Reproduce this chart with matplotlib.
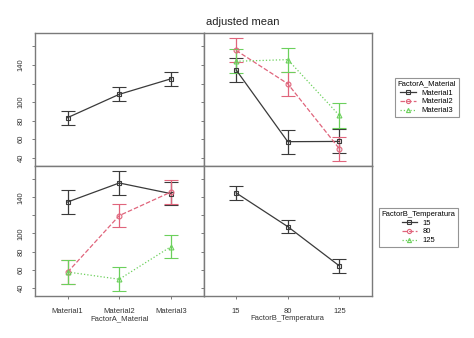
import matplotlib.pyplot as plt
from matplotlib.lines import Line2D

plt.rcParams['font.family'] = ['Liberation Sans', 'DejaVu Sans']

materials = ["Material1", "Material2", "Material3"]
temps = ["15", "80", "125"]

# cell means, rows = material, cols = temperature
cell_means = [[134.75, 57.25, 57.5],
              [155.75, 119.75, 49.5],
              [144.0, 145.75, 85.5]]
cell_err = 13.0

material_means = [83.17, 108.33, 125.08]
temp_means = [144.83, 107.58, 64.17]
marg_err = 7.5

colors = ["#3a3a3a", "#e0657c", "#6cd05c"]
styles = ["-", "--", ":"]
markers = ["s", "o", "^"]
frame = "#7a7a7a"

W, H = 474, 338
fig = plt.figure(figsize=(W / 100, H / 100), dpi=100)

x0, xm, x1 = 35, 203.5, 372
y0, ym, y1 = 33, 166, 296

def box(l, r, t, b):
    return [l / W, 1 - b / H, (r - l) / W, (b - t) / H]

ax_tl = fig.add_axes(box(x0, xm, y0, ym))
ax_tr = fig.add_axes(box(xm, x1, y0, ym))
ax_bl = fig.add_axes(box(x0, xm, ym, y1))
ax_br = fig.add_axes(box(xm, x1, ym, y1))

xs = [1, 2, 3]

def draw(ax, y, err, i):
    ax.errorbar(xs, y, yerr=err, color=colors[i], linestyle=styles[i], lw=0.9,
                marker=markers[i], ms=3.5, mfc="none", mew=0.8,
                capsize=4.7, capthick=0.9, elinewidth=0.9)

# top left: material marginal means
draw(ax_tl, material_means, marg_err, 0)

# top right: x = temperature, lines = material
for i in range(3):
    draw(ax_tr, cell_means[i], cell_err, i)

# bottom left: x = material, lines = temperature
for j in range(3):
    draw(ax_bl, [cell_means[i][j] for i in range(3)], cell_err, j)

# bottom right: temperature marginal means
draw(ax_br, temp_means, marg_err, 0)

yticks = [40, 60, 80, 100, 120, 140, 160]
ylabels = ["40", "60", "80", "100", "", "140", ""]
for ax in [ax_tl, ax_tr, ax_bl, ax_br]:
    ax.set_xlim(0.37, 3.63)
    ax.set_ylim(31, 174.5)
    ax.set_xticks(xs)
    ax.set_yticks(yticks)
    ax.tick_params(length=2.5, width=0.7, color=frame, labelsize=5.5,
                   labelcolor="#333333", pad=2)
    for s in ax.spines.values():
        s.set_color(frame)
        s.set_linewidth(1.0)

for ax in [ax_tl, ax_tr]:
    ax.set_xticklabels([])
for ax in [ax_tr, ax_br]:
    ax.set_yticklabels([])
for ax in [ax_tl, ax_bl]:
    ax.set_yticklabels(ylabels, rotation=90, va="center")
    ax.tick_params(axis="y", pad=5)

ax_bl.set_xticklabels(materials)
ax_br.set_xticklabels(temps)
ax_bl.tick_params(axis="x", pad=6)
ax_br.tick_params(axis="x", pad=6)
ax_bl.set_xlabel("FactorA_Material", fontsize=5.5, color="#333333", labelpad=0.5)
ax_br.set_xlabel("FactorB_Temperatura", fontsize=5.5, color="#333333", labelpad=0.5)

fig.text(243 / W, 1 - 22 / H, "adjusted mean", ha="center", va="center",
         fontsize=8, color="#222222")

def handles():
    return [Line2D([], [], color=colors[i], linestyle=styles[i], lw=0.9,
                   marker=markers[i], ms=3, mfc="none", mew=0.8)
            for i in range(3)]

for labels, title, lx, ly in [(materials, "FactorA_Material", 395, 78),
                              (temps, "FactorB_Temperatura", 379, 208)]:
    leg = fig.legend(handles(), labels, title=title, loc="upper left",
                     bbox_to_anchor=(lx / W, 1 - ly / H), fontsize=5.5,
                     title_fontsize=5.5, frameon=True, fancybox=False,
                     edgecolor=frame, borderaxespad=0, handlelength=2.0,
                     handletextpad=0.8, labelspacing=0.2, borderpad=0.35)
    leg.get_frame().set_linewidth(0.8)

fig.savefig("out.png", dpi=100)
